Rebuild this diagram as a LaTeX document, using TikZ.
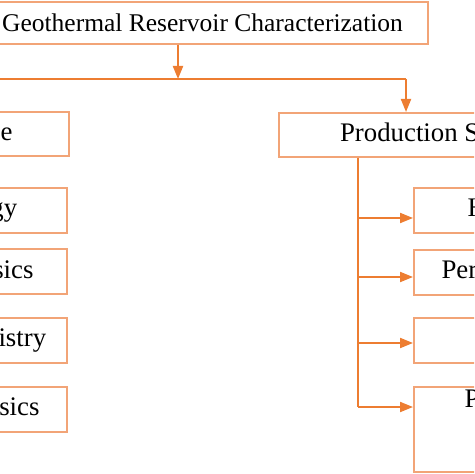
\documentclass[tikz,border=0pt]{standalone}
\usepackage{fontspec}
\setmainfont{Liberation Serif}
\usetikzlibrary{arrows.meta}
\definecolor{lineorange}{HTML}{ED7D31}
\definecolor{boxorange}{HTML}{F2A477}

\begin{document}
\begin{tikzpicture}[x=0.5pt, y=-0.5pt, font=\fontsize{13.4}{14.5}\selectfont]
%% the figure is cut on all sides, so the nodes that run out of the frame are clipped
%% one unit is one pixel of the reference, y runs downwards
\tikzstyle{arc}=[-{Triangle[length=6.5pt,width=5pt]},draw=lineorange,line width=1pt]
\tikzstyle{link}=[draw=lineorange,line width=1pt]
\tikzstyle{box}=[draw=boxorange,line width=1pt,fill=white,inner sep=0pt,align=center,minimum width=96pt,minimum height=22.5pt]
\tikzstyle{stagebox}=[box,minimum width=153pt,minimum height=22pt]
\tikzstyle{topbox}=[box,minimum width=225.5pt,minimum height=21pt,font=\fontsize{12.75}{14}\selectfont]
\useasboundingbox (0,0) rectangle (474,474);
\clip (0,0) rectangle (474,474);
%% TikZ-figure elements %%
\node[topbox] at (202.5,23) (title) {Geothermal Reservoir Characterization};
\node[stagebox] at (-84,134) (explo) {Exploration Stage};
\node[stagebox] at (432,135) (prod) {Production Stage};
%% boxes below the exploration stage
\node[box] at (-29,210.5) (geol) {Geology};
\node[box] at (-29,272) (geoph) {Geophysics};
\node[box] at (-29,340.5) (geoch) {Geochemistry};
\node[box] at (-29,409) (petro) {Petrophysics};
%% boxes below the production stage
\node[box] at (510,211) (heat) {Heating};
\node[box] at (510,272.5) (perm) {Permeability};
\node[box] at (510,340.5) (flow) {Flow};
\node[box, minimum height=42.5pt, font=\fontsize{13.4}{13.2}\selectfont] at (510,429.5) (press) {Pressure\\ \strut\\ \strut};
%% split under the title
\coordinate (split) at (178,79);
\coordinate (lsplit) at (-50,79);
\coordinate (rsplit) at (406,79);
\draw[arc] (title.south -| split) -- (split);
\draw[link] (lsplit) -- (rsplit);
\draw[arc] (lsplit) -- (lsplit |- explo.north);
\draw[arc] (rsplit) -- (rsplit |- prod.north);
%% trunk of the exploration stage
\coordinate (l1) at (-177,218);
\coordinate (l2) at (-177,277);
\coordinate (l3) at (-177,343);
\coordinate (l4) at (-177,407);
\draw[link] (explo.south -| l1) -- (l4);
\foreach \c/\b in {l1/geol, l2/geoph, l3/geoch, l4/petro}
  \draw[arc] (\c) -- (\c -| \b.west);
%% trunk of the production stage
\coordinate (r1) at (358,218);
\coordinate (r2) at (358,277);
\coordinate (r3) at (358,343);
\coordinate (r4) at (358,407);
\draw[link] (prod.south -| r1) -- (r4);
\foreach \c/\b in {r1/heat, r2/perm, r3/flow, r4/press}
  \draw[arc] (\c) -- (\c -| \b.west);
\end{tikzpicture}
\end{document}
